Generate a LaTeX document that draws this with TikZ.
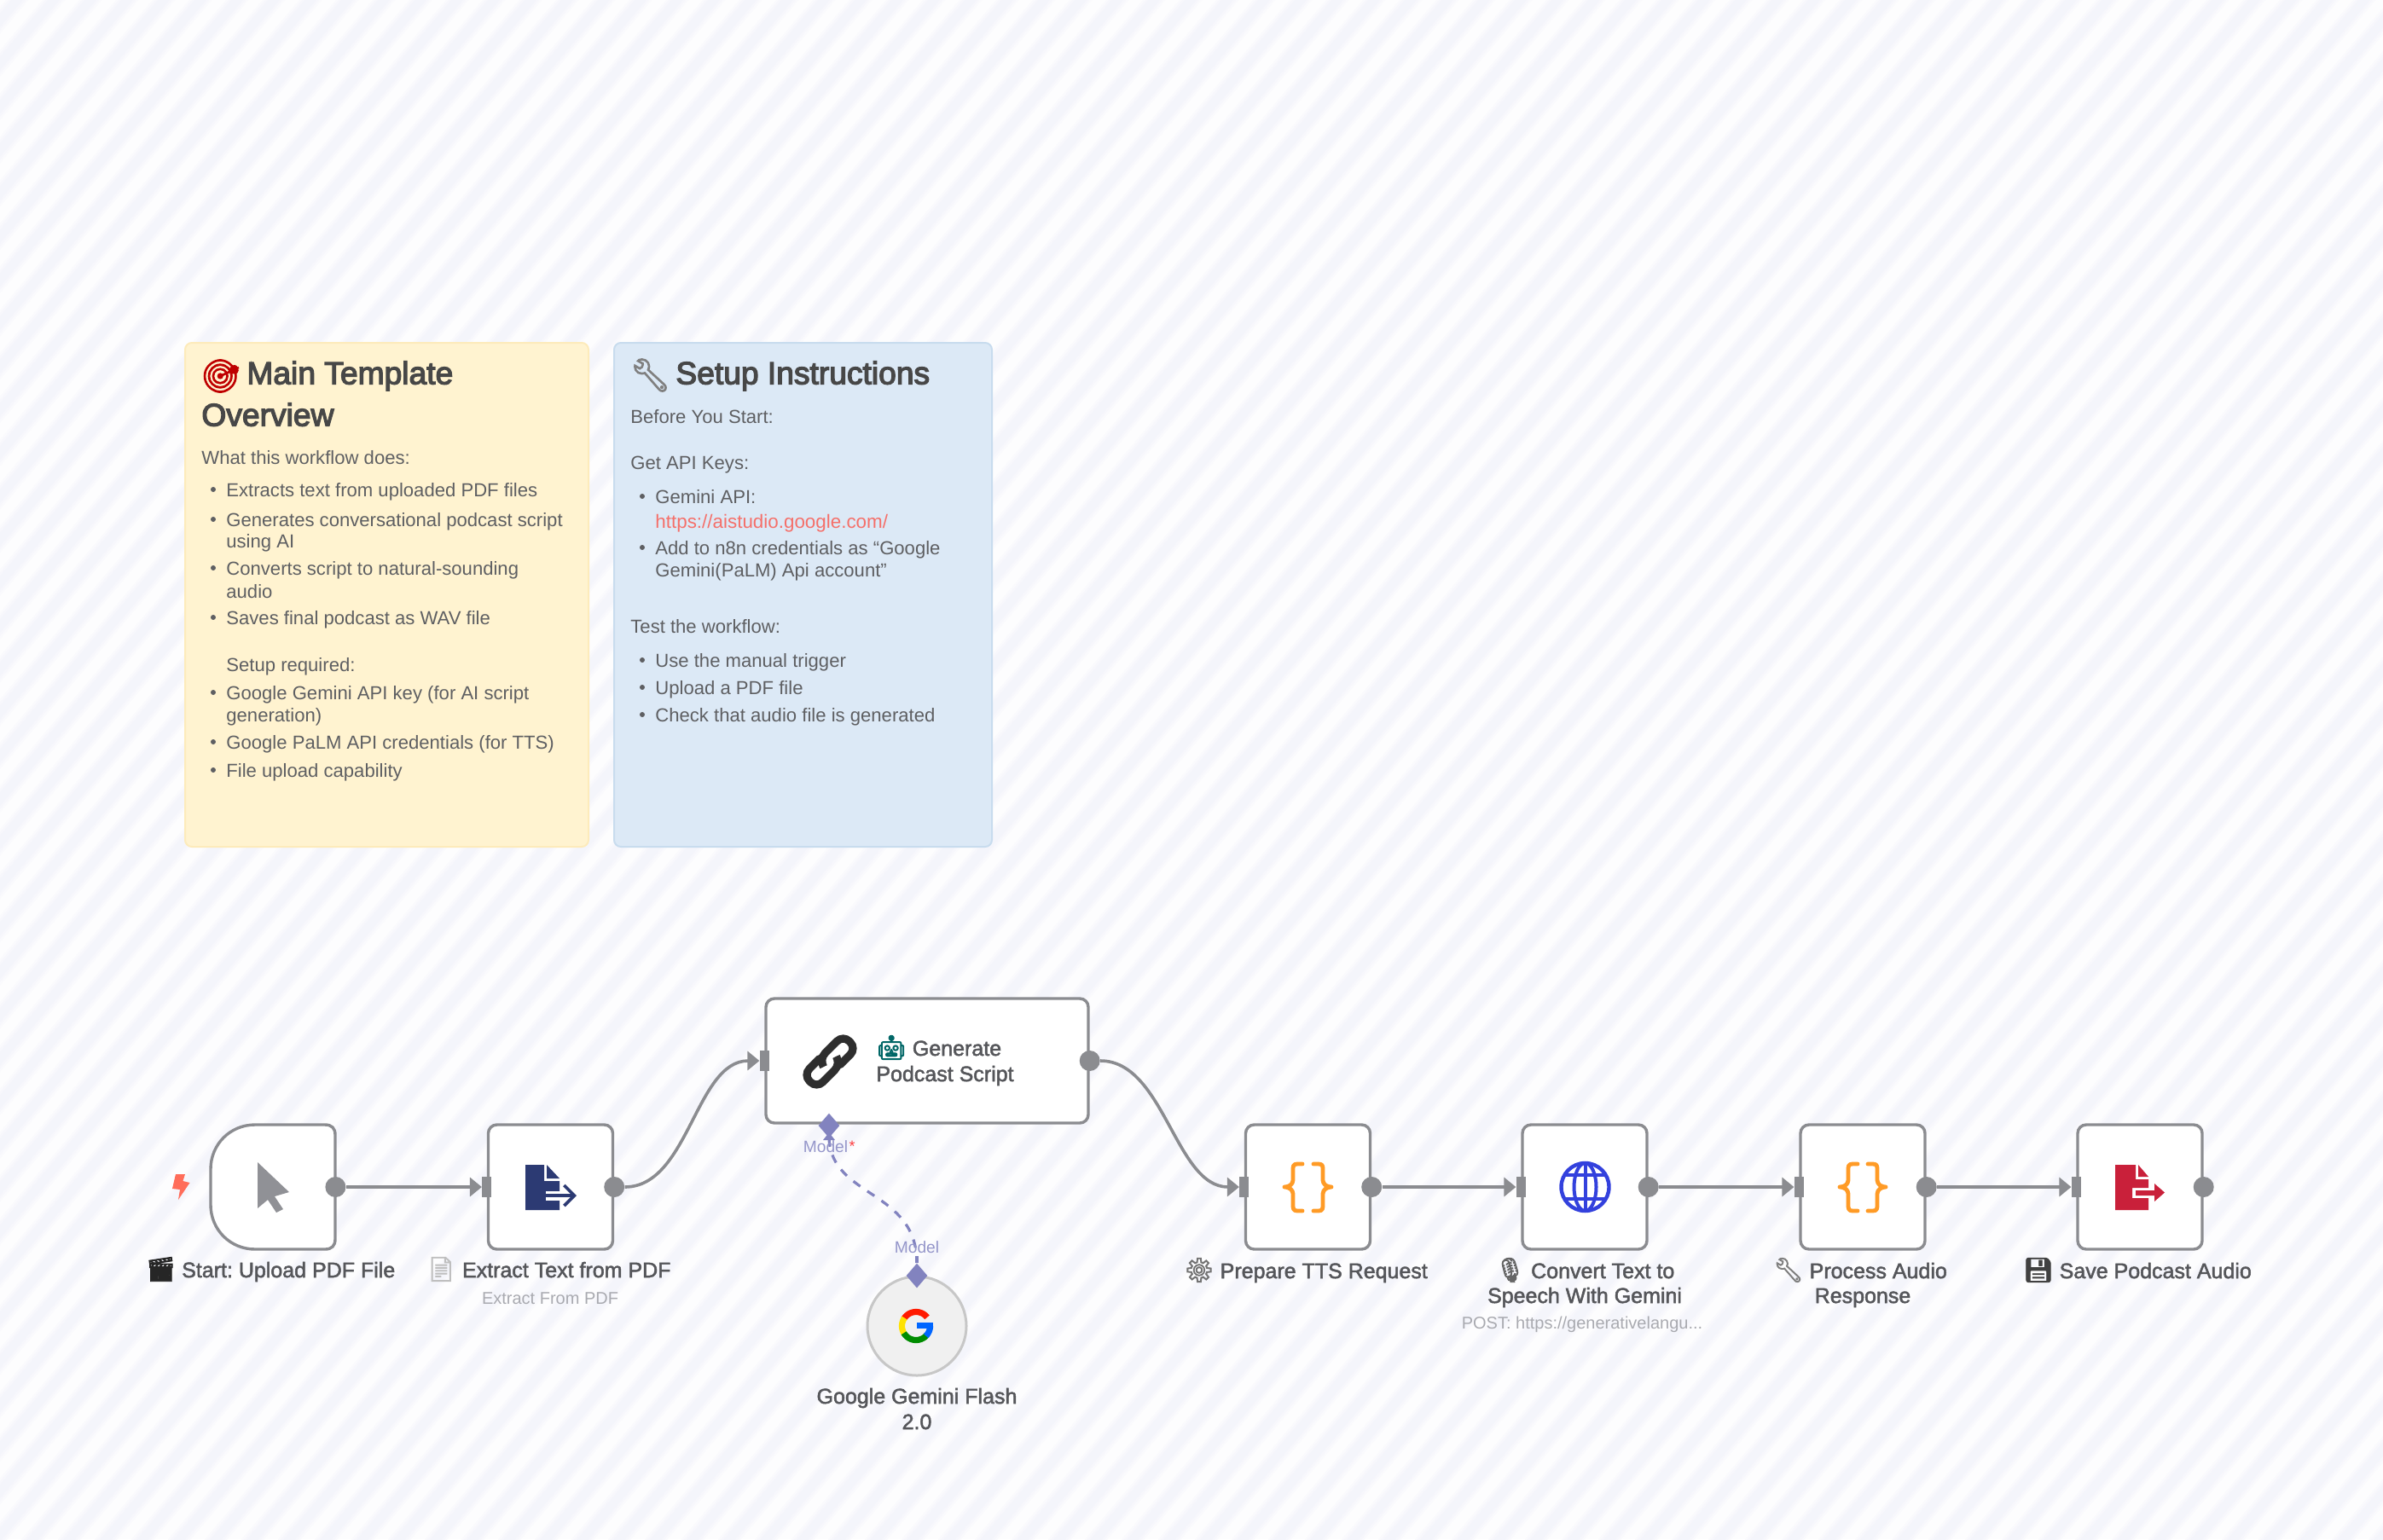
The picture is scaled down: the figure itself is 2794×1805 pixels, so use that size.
\documentclass[tikz,border=0pt]{standalone}
\usepackage{fontspec}
\usetikzlibrary{shapes.geometric,arrows.meta}
\setmainfont{Liberation Sans}
\newfontfamily\emojifont[FakeBold=3]{Noto Emoji}
\newfontfamily\medfont[FakeBold=2]{Liberation Sans}
\newfontfamily\semifont[FakeBold=3.5]{Liberation Sans}
\definecolor{bgbase}{HTML}{FDFDFE}
\definecolor{bgstripeA}{HTML}{FAFAFD}
\definecolor{bgstripeB}{HTML}{F7F7FC}
\definecolor{bgstripeC}{HTML}{F4F5FB}
\definecolor{edgegray}{HTML}{8B8C90}
\definecolor{labelgray}{HTML}{55565A}
\definecolor{subgray}{HTML}{A9AAB0}
\definecolor{bodygray}{HTML}{5E5F62}
\definecolor{modelpurple}{HTML}{8283BF}
\definecolor{modeltext}{HTML}{9596CA}
\definecolor{bracecol}{HTML}{FF9B26}
\definecolor{globecol}{HTML}{3341DD}
\definecolor{navyicon}{HTML}{2C3A73}
\definecolor{redicon}{HTML}{C9203A}
\definecolor{boltred}{HTML}{FF6D5A}
\definecolor{linkred}{HTML}{F5706A}
\definecolor{cursorgray}{HTML}{909196}
\definecolor{yellowfill}{HTML}{FFF3D0}
\definecolor{yellowedge}{HTML}{FDEBBB}
\definecolor{bluefill}{HTML}{DCE9F6}
\definecolor{blueedge}{HTML}{C8DCEE}
\newcommand{\emo}[2]{{\color{#1}\emojifont\fontsize{14}{15}\selectfont #2}}
\frenchspacing
\tikzset{
  flowbox/.style={draw=edgegray,line width=1.7pt,fill=white,rounded corners=5pt,minimum width=73pt,minimum height=73pt,inner sep=0pt},
  outdot/.style={circle,fill=edgegray,minimum size=12pt,inner sep=0pt},
  inport/.style={rectangle,fill=edgegray,minimum width=5.5pt,minimum height=12pt,inner sep=0pt},
  conn/.style={draw=edgegray,line width=1.8pt,-{Triangle[length=7pt,width=11pt]}},
  modeldiamond/.style={diamond,fill=modelpurple,minimum width=12.5pt,minimum height=14.5pt,inner sep=0pt},
  modelconn/.style={draw=modelpurple,line width=1.6pt,dash pattern=on 5pt off 5pt},
  modellabel/.style={font=\fontsize{9.6}{11}\selectfont,text=modeltext,inner sep=0pt},
  flowlabel/.style={font=\medfont\fontsize{12.5}{15}\selectfont,text=labelgray,inner sep=0pt,text height=10pt,text depth=3pt,yshift=-1pt},
  sublabel/.style={font=\fontsize{10}{12}\selectfont,text=subgray,inner sep=0pt,text height=8pt,text depth=2.5pt,yshift=-0.5pt},
  notebody/.style={anchor=west,font=\fontsize{11.05}{13}\selectfont,text=bodygray,inner sep=0pt,text height=8.5pt,text depth=2.5pt,yshift=-1.2pt},
  notetitle/.style={anchor=west,font=\semifont\fontsize{18.6}{22}\selectfont,text=black!72,inner sep=0pt,text height=13.5pt,text depth=4pt,yshift=-1.5pt},
  bulletdot/.style={circle,fill=bodygray,minimum size=3pt,inner sep=0pt},
  notebox/.style={line width=1pt,rounded corners=4pt},
  iconline/.style={line cap=round,line join=round},
}
\begin{document}
\begin{tikzpicture}[x=0.5pt,y=-0.5pt]
\path[use as bounding box] (0,0) rectangle (2794,1805);
% background
\fill[bgbase] (0,0) rectangle (2794,1805);
\begin{scope}
\clip (0,0) rectangle (2794,1805);
\foreach \k in {-2,...,104}{
  \draw[bgstripeA,line width=10pt] ({\k*43+37},-20) -- ({\k*43+37-1610},1880);
  \draw[bgstripeB,line width=7.5pt] ({\k*43+37},-20) -- ({\k*43+37-1610},1880);
  \draw[bgstripeC,line width=5pt] ({\k*43+37},-20) -- ({\k*43+37-1610},1880);
}
\end{scope}
% sticky notes
\draw[notebox,draw=yellowedge,fill=yellowfill] (217,402) rectangle (690,993);
\draw[notebox,draw=blueedge,fill=bluefill] (720,402) rectangle (1163,993);
% yellow note
\node[anchor=west,inner sep=0pt] (yemoji) at (235,441) {\color{red!75!black}\emojifont\fontsize{19}{22}\selectfont 🎯};
\node[notetitle] (ytitleA) at (289,438) {Main Template};
\node[notetitle] (ytitleB) at (236,487) {Overview};
\foreach \px/\py/\txt [count=\i] in {
 236/536/{What this workflow does:},
 265/574/{Extracts text from uploaded PDF files},
 265/609/{Generates conversational podcast script},
 265/634/{using AI},
 265/666/{Converts script to natural-sounding},
 265/693/{audio},
 265/724/{Saves final podcast as WAV file},
 265/779/{Setup required:},
 265/812/{Google Gemini API key (for AI script},
 265/838/{generation)},
 265/870/{Google PaLM API credentials (for TTS)},
 265/903/{File upload capability}}{
  \node[notebody] (yline\i) at (\px,\py) {\txt};
}
\foreach \py [count=\i] in {574,609,666,724,812,870,903}{
  \node[bulletdot] (ybullet\i) at (250,\py) {};
}
% blue note
\node[anchor=west,inner sep=0pt] (bemoji) at (738,440) {\color{gray}\emojifont\fontsize{19}{22}\selectfont 🔧};
\node[notetitle] (btitle) at (792,438) {Setup Instructions};
\foreach \px/\py/\txt [count=\i] in {
 739/488/{Before You Start:},
 739/542/{Get API Keys:},
 768/582/{Gemini API:},
 768/642/{Add to n8n credentials as “Google},
 768/668/{Gemini(PaLM) Api account”},
 739/734/{Test the workflow:},
 768/774/{Use the manual trigger},
 768/806/{Upload a PDF file},
 768/838/{Check that audio file is generated}}{
  \node[notebody] (bline\i) at (\px,\py) {\txt};
}
\node[notebody,text=linkred,font=\fontsize{11.2}{13}\selectfont] (blink) at (768,611) {https://aistudio.google.com/};
\foreach \py [count=\i] in {582,642,774,806,838}{
  \node[bulletdot] (bbullet\i) at (753,\py) {};
}
% trigger bolt
\fill[boltred] (206,1377) -- (217,1377) -- (214.5,1385) -- (222.5,1387) -- (209,1407) -- (211,1395) -- (202,1394) -- cycle;
% flow nodes
\draw[draw=edgegray,line width=1.7pt,fill=white] (299,1319) -- (381,1319) .. controls (389,1319) and (393,1323) .. (393,1331) -- (393,1453) .. controls (393,1461) and (389,1465) .. (381,1465) -- (299,1465) .. controls (270,1465) and (247,1442) .. (247,1413) -- (247,1371) .. controls (247,1342) and (270,1319) .. (299,1319) -- cycle;
\node[minimum width=73pt,minimum height=73pt,inner sep=0pt] (start) at (320,1392) {};
\node[flowbox] (extract) at (645.5,1392) {};
\node[flowbox,minimum width=189pt] (generate) at (1087,1244) {};
\node[flowbox] (prepare) at (1533.5,1392) {};
\node[flowbox] (convert) at (1858,1392) {};
\node[flowbox] (process) at (2184,1392) {};
\node[flowbox] (save) at (2509,1392) {};
\node[circle,draw=black!22,line width=1.5pt,fill=black!6,minimum size=58pt,inner sep=0pt] (gemini) at (1075,1555) {};
% ports
\node[outdot] (startout) at (start.east) {};
\node[outdot] (extractout) at (extract.east) {};
\node[outdot] (generateout) at (generate.east) {};
\node[outdot] (prepareout) at (prepare.east) {};
\node[outdot] (convertout) at (convert.east) {};
\node[outdot] (processout) at (process.east) {};
\node[outdot] (saveout) at (save.east) {};
\node[inport] (extractin) at (extract.west) {};
\node[inport] (generatein) at (generate.west) {};
\node[inport] (preparein) at (prepare.west) {};
\node[inport] (convertin) at (convert.west) {};
\node[inport] (processin) at (process.west) {};
\node[inport] (savein) at (save.west) {};
% connectors
\draw[conn] (startout) -- (extractin);
\draw[conn] (extractout.east) .. controls +(75,0) and +(-75,0) .. (generatein.west);
\draw[conn] (generateout.east) .. controls +(75,0) and +(-75,0) .. (preparein.west);
\draw[conn] (prepareout) -- (convertin);
\draw[conn] (convertout) -- (processin);
\draw[conn] (processout) -- (savein);
% model link
\node[modeldiamond] (modelin) at (972,1320) {};
\node[modeldiamond] (modelout) at (1075,1496) {};
\draw[modelconn] (modelin.south) .. controls (975,1405) and (1075,1395) .. (modelout.north);
\fill[modelpurple] (972,1328) -- (979,1337) -- (965,1337) -- cycle;
\draw[draw=modelpurple,line width=1.6pt] (modelout.north) -- (1075,1473);
\node[modellabel] (modelA) at (968,1345) {Model};
\node[modellabel,text=red!75!white,anchor=center] (modelstar) at (999,1344) {\fontsize{9}{9}\selectfont *};
\node[modellabel] (modelB) at (1075,1463) {Model};
% node icons
\fill[cursorgray] (302,1363) -- (302,1417) -- (314,1407) -- (324,1422) -- (332,1418) -- (322,1403) -- (339,1398) -- cycle;
% extract icon
\fill[navyicon] (616,1366) -- (638,1366) -- (638,1385) -- (656,1385) -- (656,1419) -- (616,1419) -- cycle;
\fill[navyicon] (641,1366) -- (656,1382) -- (641,1382) -- cycle;
\draw[white,line width=5.5pt] (640,1402) -- (672,1402);
\draw[navyicon,line width=1.8pt,-{Straight Barb[length=6pt,width=12pt]}] (640,1402) -- (676,1402);
% chain icon
\begin{scope}[shift={(973,1245)},rotate=45]
\draw[black!82,line width=4.6pt,line cap=round,rounded corners=5pt] (-6,-11) -- (-33,-11) -- (-33,11) -- (7,11) -- (9,3);
\draw[black!82,line width=4.6pt,line cap=round,rounded corners=5pt] (6,11) -- (33,11) -- (33,-11) -- (-7,-11) -- (-9,-3);
\end{scope}
% braces
\foreach \lx/\rx [count=\i] in {1505/1562,2156/2212}{
  \draw[bracecol,line width=2.4pt,iconline] (\lx+22,1365) -- (\lx+16,1365) .. controls (\lx+11,1365) and (\lx+11,1368) .. (\lx+11,1372) -- (\lx+11,1384) .. controls (\lx+11,1389) and (\lx+6,1392) .. (\lx+1,1392) .. controls (\lx+6,1392) and (\lx+11,1395) .. (\lx+11,1400) -- (\lx+11,1412) .. controls (\lx+11,1417) and (\lx+11,1420) .. (\lx+16,1420) -- (\lx+22,1420);
  \draw[bracecol,line width=2.4pt,iconline] (\rx-22,1365) -- (\rx-16,1365) .. controls (\rx-11,1365) and (\rx-11,1368) .. (\rx-11,1372) -- (\rx-11,1384) .. controls (\rx-11,1389) and (\rx-6,1392) .. (\rx-1,1392) .. controls (\rx-6,1392) and (\rx-11,1395) .. (\rx-11,1400) -- (\rx-11,1412) .. controls (\rx-11,1417) and (\rx-11,1420) .. (\rx-16,1420) -- (\rx-22,1420);
}
% globe
\draw[globecol,line width=2.2pt] (1858.5,1392) circle [x radius=28,y radius=28];
\draw[globecol,line width=2pt] (1858.5,1392) circle [x radius=13,y radius=28];
\draw[globecol,line width=2pt] (1858.5,1364) -- (1858.5,1420);
\draw[globecol,line width=2pt] (1833,1378) -- (1884,1378);
\draw[globecol,line width=2pt] (1833,1406) -- (1884,1406);
% save icon
\fill[redicon] (2480,1366) -- (2504,1366) -- (2504,1383) -- (2519,1383) -- (2519,1393) -- (2500,1393) -- (2500,1405) -- (2519,1405) -- (2519,1419) -- (2480,1419) -- cycle;
\fill[redicon] (2507,1366) -- (2519,1380) -- (2507,1380) -- cycle;
\fill[redicon] (2504,1396) -- (2526,1396) -- (2526,1388) -- (2538,1398.5) -- (2526,1409) -- (2526,1402) -- (2504,1402) -- cycle;
% google G
\draw[line width=3.6pt,color=red!80!orange] plot[domain=38:150,samples=24] ({1074+16.5*cos(\x)},{1555-16.5*sin(\x)});
\draw[line width=3.6pt,color=yellow!85!orange] plot[domain=145:215,samples=14] ({1074+16.5*cos(\x)},{1555-16.5*sin(\x)});
\draw[line width=3.6pt,color=green!55!black] plot[domain=210:320,samples=24] ({1074+16.5*cos(\x)},{1555-16.5*sin(\x)});
\draw[line width=3.6pt,color=blue!60!cyan] plot[domain=315:360,samples=10] ({1074+16.5*cos(\x)},{1555-16.5*sin(\x)});
\fill[blue!60!cyan] (1075,1551) rectangle (1094,1558);
% labels
\node[flowlabel] (startlabel) at (317,1489) {\emo{black!85}{🎬} Start: Upload PDF File};
\node[flowlabel] (extractlabel) at (643,1489) {\emo{black!25}{📄} Extract Text from PDF};
\node[sublabel] (extractsub) at (645,1523) {Extract From PDF};
\node[flowlabel,anchor=west] (genlabelA) at (1027,1229) {\emo{teal!80!black}{🤖} Generate};
\node[flowlabel,anchor=west] (genlabelB) at (1027,1259) {Podcast Script};
\node[flowlabel] (geminilabelA) at (1075,1637) {Google Gemini Flash};
\node[flowlabel] (geminilabelB) at (1075,1667) {2.0};
\node[flowlabel] (preparelabel) at (1531,1490) {\emo{black!55}{⚙} Prepare TTS Request};
\node[flowlabel] (convertlabelA) at (1858,1490) {\emo{black!60}{🎙} Convert Text to};
\node[flowlabel] (convertlabelB) at (1858,1519) {Speech With Gemini};
\node[sublabel] (convertsub) at (1855,1552) {POST: https://generativelangu...};
\node[flowlabel] (processlabelA) at (2181,1490) {\emo{black!50}{🔧} Process Audio};
\node[flowlabel] (processlabelB) at (2184,1519) {Response};
\node[flowlabel] (savelabel) at (2506,1490) {\emo{black!75}{💾} Save Podcast Audio};
\end{tikzpicture}
\end{document}
